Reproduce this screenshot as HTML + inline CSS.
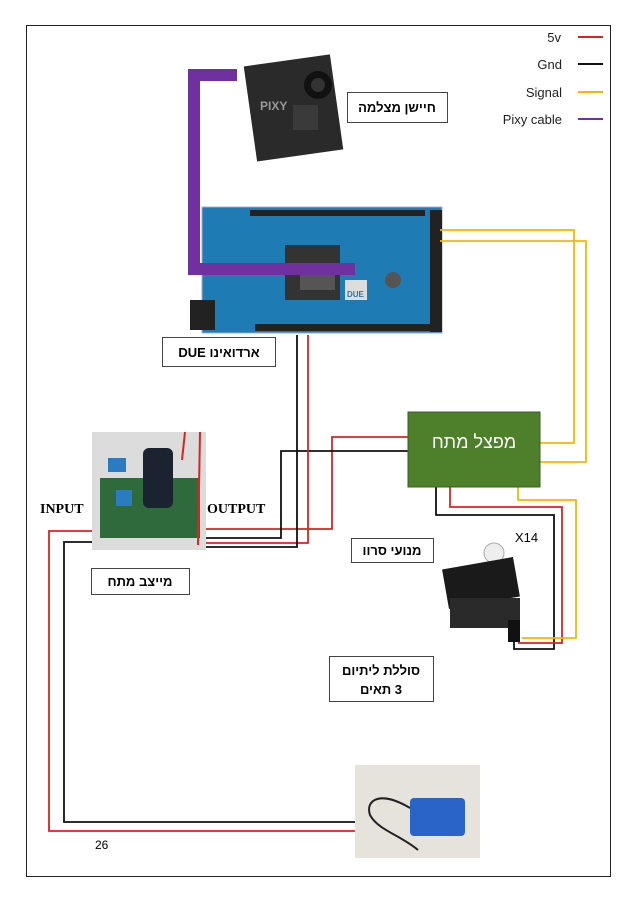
<!DOCTYPE html>
<html><head><meta charset="utf-8"><style>
body{margin:0;background:#fff;}
svg{display:block;}
.h{font-family:"Liberation Sans","Noto Sans CJK SC",sans-serif;font-weight:bold;font-size:13px;}
</style></head><body>
<svg width="638" height="902" viewBox="0 0 638 902" xmlns="http://www.w3.org/2000/svg">
<rect x="26.5" y="25.5" width="584" height="851" fill="none" stroke="#222" stroke-width="1"/>
<!-- legend -->
<g font-family="Liberation Sans, sans-serif" font-size="13" text-anchor="end" fill="#222">
<text x="561" y="42">5v</text><text x="562" y="69">Gnd</text><text x="562" y="97">Signal</text><text x="562" y="124">Pixy cable</text>
</g>
<line x1="578" y1="37" x2="603" y2="37" stroke="#e02020" stroke-width="2"/>
<line x1="578" y1="64" x2="603" y2="64" stroke="#111" stroke-width="2"/>
<line x1="578" y1="92" x2="603" y2="92" stroke="#f5b800" stroke-width="2"/>
<line x1="578" y1="119" x2="603" y2="119" stroke="#7030a0" stroke-width="2"/>

<!-- camera -->
<rect x="250" y="60" width="87" height="96" fill="#2a2a2a" transform="rotate(-8 293 108)"/>
<circle cx="318" cy="85" r="14" fill="#111"/><circle cx="318" cy="85" r="7" fill="#333"/>
<rect x="293" y="105" width="25" height="25" fill="#3a3a3a"/>
<text x="260" y="110" font-family="Liberation Sans" font-size="12" font-weight="bold" fill="#999">PIXY</text>
<rect x="347.5" y="92.5" width="100" height="30" fill="#fff" stroke="#444"/>
<text class="h" x="397" y="112" text-anchor="middle" direction="rtl">חיישן מצלמה</text>

<!-- arduino -->
<rect x="202" y="207" width="240" height="126" fill="#1f7bb3"/>
<rect x="202" y="207" width="240" height="126" fill="none" stroke="#aac" stroke-width="1"/>
<rect x="430" y="210" width="12" height="122" fill="#222"/>
<rect x="250" y="210" width="175" height="6" fill="#222"/>
<rect x="255" y="324" width="175" height="7" fill="#222"/>
<rect x="285" y="245" width="55" height="55" fill="#333"/>
<rect x="300" y="275" width="35" height="15" fill="#555"/>
<rect x="190" y="300" width="25" height="30" fill="#222"/>
<rect x="345" y="280" width="22" height="20" fill="#ddd"/>
<text x="347" y="297" font-family="Liberation Sans" font-size="8" font-weight="bold" fill="#1f7bb3">DUE</text>
<circle cx="393" cy="280" r="8" fill="#555"/>
<rect x="162.5" y="337.5" width="113" height="29" fill="#fff" stroke="#444"/>
<text class="h" x="219" y="357" text-anchor="middle" direction="rtl">ארדואינו DUE</text>

<!-- purple -->
<path d="M237 75 H194 V269 H355" fill="none" stroke="#7030a0" stroke-width="12"/>

<!-- wires -->
<g fill="none" stroke-width="1.8">
<path d="M440 230 H574 V443 H540" stroke="#f5b800"/>
<path d="M440 241 H586 V462 H540" stroke="#f5b800"/>
<path d="M206 529 H332 V437 H408" stroke="#e02020"/>
<path d="M206 538 H281 V451 H408" stroke="#111"/>
<path d="M206 543 H308 V335" stroke="#e02020"/>
<path d="M206 547 H297 V335" stroke="#111"/>
<path d="M436 487 V515 H554 V649 H514 V632" stroke="#111"/>
<path d="M450 487 V507 H562 V643 H518" stroke="#e02020"/>
<path d="M518 487 V500 H576 V638 H522" stroke="#f5b800"/>
<path d="M92 531 H49 V831 H355" stroke="#e02020"/>
<path d="M92 542 H64 V822 H355" stroke="#111"/>
</g>

<!-- green box -->
<rect x="408" y="412" width="132" height="75" fill="#4e7f2a" stroke="#3a5f20"/>
<text x="474" y="448" font-family="Liberation Sans, Noto Sans CJK SC, sans-serif" font-size="18" fill="#fff" text-anchor="middle" direction="rtl">מפצל מתח</text>

<!-- regulator -->
<rect x="92" y="432" width="114" height="118" fill="#dcdcdc"/>
<rect x="100" y="478" width="100" height="60" fill="#2f6b3a"/>
<rect x="143" y="448" width="30" height="60" rx="6" fill="#1b2330"/>
<rect x="116" y="490" width="16" height="16" fill="#2a7bc0"/>
<rect x="108" y="458" width="18" height="14" fill="#2a7bc0"/>
<path d="M185 432 L182 460 M200 432 L198 545" stroke="#d22" stroke-width="2"/>
<text x="40" y="513" font-family="Liberation Serif, serif" font-weight="bold" font-size="14">INPUT</text>
<text x="207" y="513" font-family="Liberation Serif, serif" font-weight="bold" font-size="14">OUTPUT</text>
<rect x="91.5" y="568.5" width="98" height="26" fill="#fff" stroke="#444"/>
<text class="h" x="140" y="586" text-anchor="middle" direction="rtl">מייצב מתח</text>

<!-- servo -->
<text x="515" y="542" font-family="Liberation Sans" font-size="13">X14</text>
<circle cx="494" cy="553" r="10" fill="#eee" stroke="#aaa"/>
<rect x="445" y="563" width="72" height="40" fill="#1a1a1a" transform="rotate(-10 481 583)"/>
<rect x="450" y="598" width="70" height="30" fill="#2a2a2a"/>
<rect x="508" y="620" width="12" height="22" fill="#111"/>
<rect x="351.5" y="538.5" width="82" height="24" fill="#fff" stroke="#444"/>
<text class="h" x="392" y="555" text-anchor="middle" direction="rtl">מנועי סרוו</text>

<!-- battery -->
<rect x="329.5" y="656.5" width="104" height="45" fill="#fff" stroke="#444"/>
<text class="h" x="381" y="675" text-anchor="middle" direction="rtl">סוללת ליתיום</text>
<text class="h" x="381" y="694" text-anchor="middle" direction="rtl">3 תאים</text>
<rect x="355" y="765" width="125" height="93" fill="#e6e2dc"/>
<rect x="410" y="798" width="55" height="38" rx="4" fill="#2a64c8"/>
<path d="M410 808 C380 790 365 800 370 815 C378 830 400 835 418 850" fill="none" stroke="#222" stroke-width="2"/>
<text x="95" y="849" font-family="Liberation Sans" font-size="12">26</text>
</svg>
</body></html>
